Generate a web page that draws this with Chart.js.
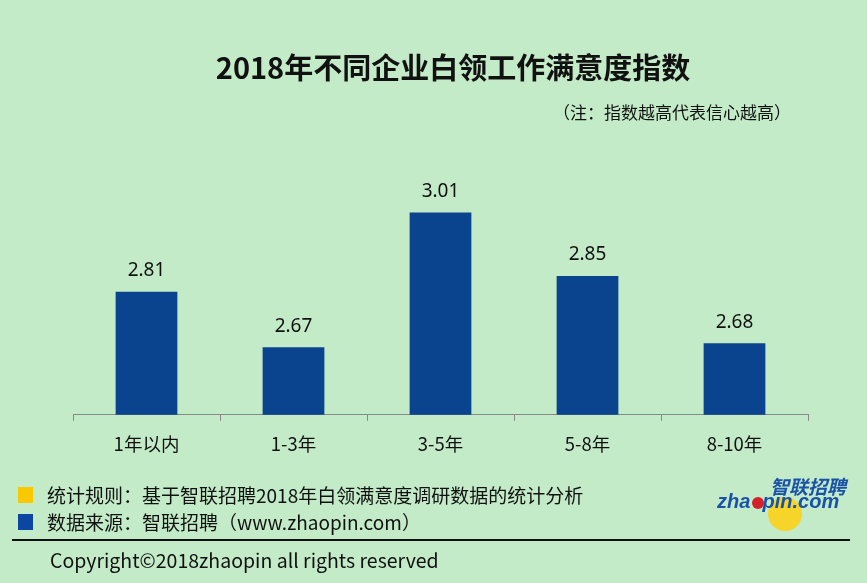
<!DOCTYPE html>
<html>
<head>
<meta charset="utf-8">
<script src="https://cdn.jsdelivr.net/npm/chart.js@4.4.0/dist/chart.umd.min.js"></script>
<style>
    body { margin: 0; background: #c3ebc8; font-family: "Noto Sans CJK SC", "Noto Sans", sans-serif; }
    #wrap { position: relative; width: 867px; height: 583px; overflow: hidden; }
    #wrap canvas { position: absolute; left: 0; top: 0; }
    .txt { position: absolute; white-space: nowrap; color: #111; }
    #title { left: 0; width: 906px; top: 45px; text-align: center; font-size: 29px; font-weight: bold; }
    #note { right: 76px; top: 99px; font-size: 17px; }
    .sq { position: absolute; left: 18px; width: 15px; height: 16px; }
    .foot { left: 47px; font-size: 19px; }
    #line { position: absolute; left: 12px; top: 539px; width: 838px; height: 2px; background: #111; }
    #logo { position: absolute; left: 715px; top: 475px; width: 140px; height: 60px; }
    #logo .sun { position: absolute; left: 53px; top: 22px; width: 34px; height: 34px; border-radius: 50%; background: #f7d42a; }
    #logo .ball { position: absolute; left: 37px; top: 22px; width: 12px; height: 12px; border-radius: 50%; background: #d4202a; }
    #logo .cn { position: absolute; left: 55px; top: 0px; font-size: 19px; line-height: 22px; font-weight: bold; font-style: italic; color: #1a52aa; }
    #logo .en { position: absolute; left: 2px; top: 15px; font-size: 20px; line-height: 23px; font-weight: bold; font-style: italic; color: #1a52aa; font-family: "Liberation Sans", sans-serif; }
</style>
</head>
<body>
<div id="wrap">
    <canvas id="categoryChart" width="867" height="583"></canvas>
    <div class="txt" id="title">2018年不同企业白领工作满意度指数</div>
    <div class="txt" id="note">（注：指数越高代表信心越高）</div>
    <div class="sq" style="top:487px;background:#f8c800;"></div>
    <div class="txt foot" style="top:481px;">统计规则：基于智联招聘2018年白领满意度调研数据的统计分析</div>
    <div class="sq" style="top:514px;background:#0b47a0;"></div>
    <div class="txt foot" style="top:508px;">数据来源：智联招聘（www.zhaopin.com）</div>
    <div id="line"></div>
    <div class="txt" style="left:50px;top:545px;font-size:19.5px;">Copyright©2018zhaopin all rights reserved</div>
    <div id="logo">
        <div class="sun"></div>
        <div class="cn">智联招聘</div>
        <div class="en">zha<span style="color:transparent">o</span>pin.com</div>
        <div class="ball"></div>
    </div>
</div>
<script>
var categoryNames = ['1年以内', '1-3年', '3-5年', '5-8年', '8-10年'];
var categoryData = [2.81, 2.67, 3.01, 2.85, 2.68];

// draw the value above each bar
var valueLabels = {
    id: 'valueLabels',
    afterDatasetsDraw: function (chart) {
        var ctx = chart.ctx;
        var meta = chart.getDatasetMeta(0);
        ctx.save();
        ctx.font = '19px "Noto Sans", "DejaVu Sans", sans-serif';
        ctx.fillStyle = '#111';
        ctx.textAlign = 'center';
        ctx.textBaseline = 'middle';
        meta.data.forEach(function (bar, i) {
            ctx.fillText(categoryData[i].toFixed(2), bar.x, bar.y - 21);
        });
        ctx.restore();
    }
};

var ctx = document.getElementById('categoryChart').getContext('2d');
var myChart = new Chart(ctx, {
    type: 'bar',
    data: {
        labels: categoryNames,
        datasets: [{
            label: '满意度指数',
            data: categoryData,
            backgroundColor: '#0a448e',
            categoryPercentage: 1,
            barPercentage: 0.42
        }]
    },
    options: {
        responsive: false,
        animation: false,
        layout: { padding: { left: 73, right: 59, top: 137, bottom: 116 } },
        scales: {
            x: {
                grid: { drawOnChartArea: false, drawTicks: true, tickLength: 6, color: '#888' },
                border: { color: '#888', width: 1 },
                ticks: { color: '#111', padding: 12, font: { size: 18.5, family: '"Noto Sans CJK SC", sans-serif' } }
            },
            y: {
                display: false,
                min: 2.5,
                max: 3.2
            }
        },
        plugins: {
            legend: { display: false },
            tooltip: { enabled: false }
        }
    },
    plugins: [valueLabels]
});
</script>
</body>
</html>
